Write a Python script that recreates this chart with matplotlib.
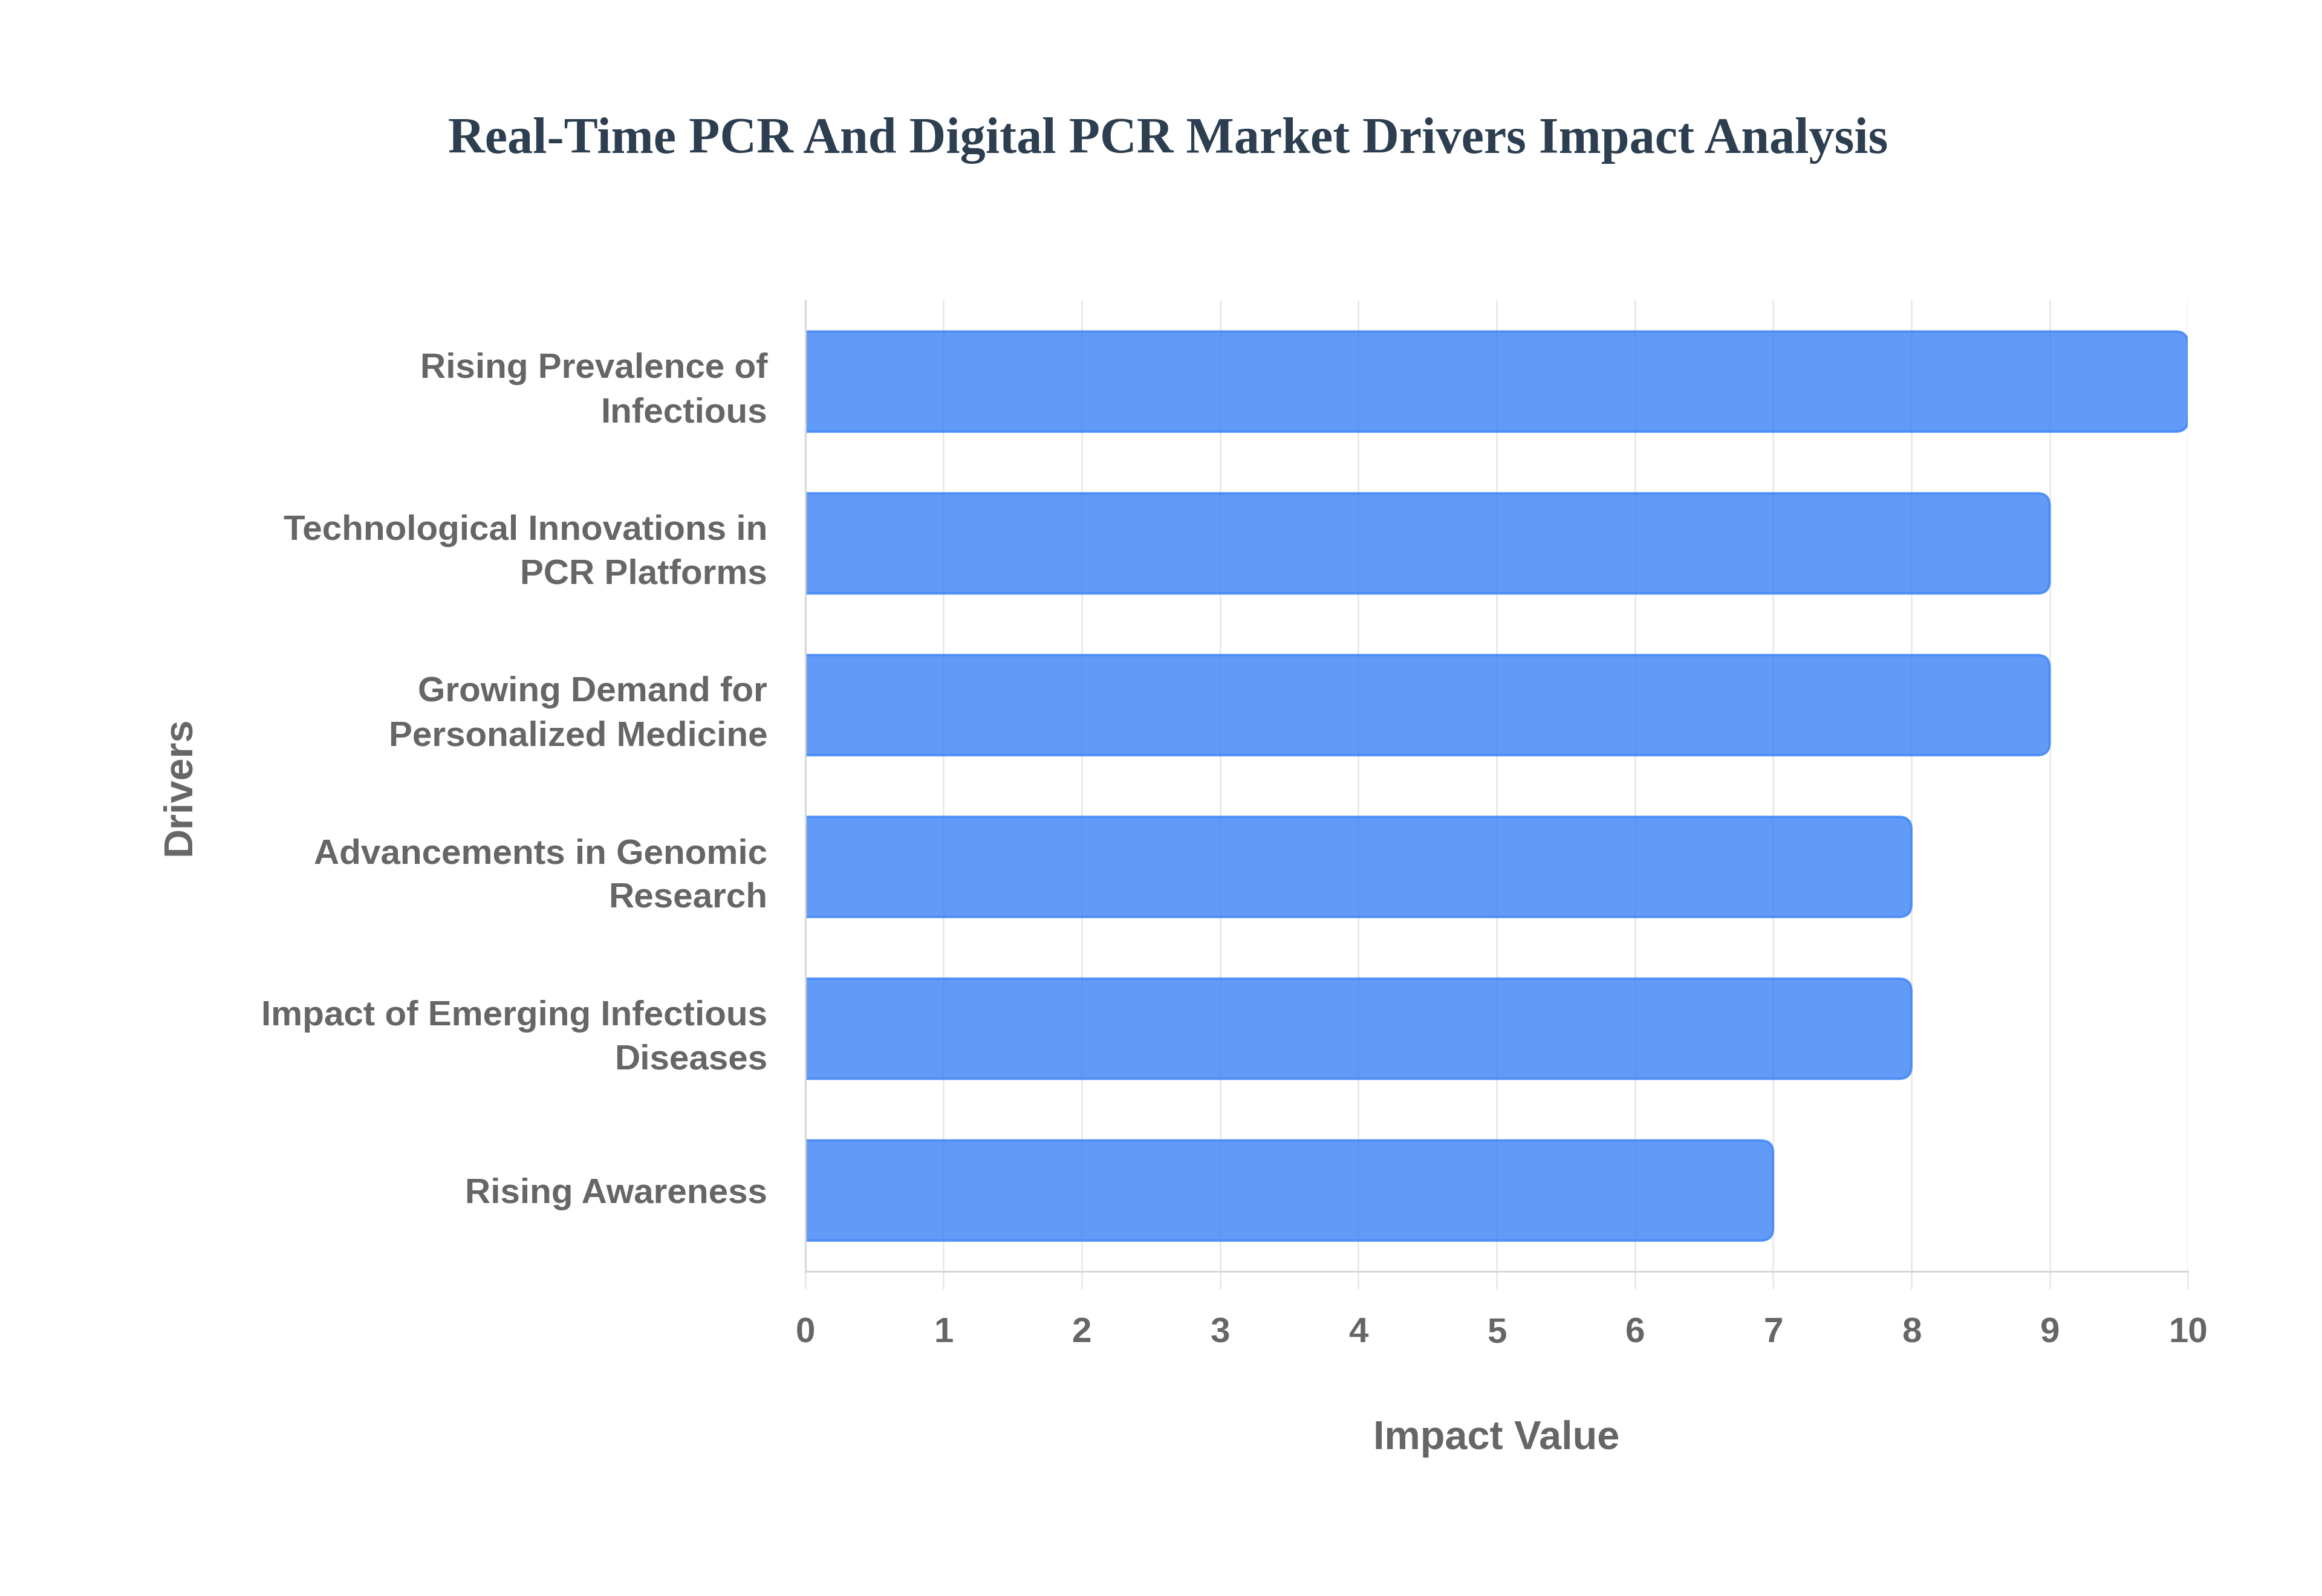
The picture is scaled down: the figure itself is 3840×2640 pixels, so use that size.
import numpy as np
import matplotlib
matplotlib.use("Agg")
import matplotlib.pyplot as plt
from matplotlib.patches import FancyBboxPatch

# data
drivers = [
    "Rising Prevalence of\nInfectious",
    "Technological Innovations in\nPCR Platforms",
    "Growing Demand for\nPersonalized Medicine",
    "Advancements in Genomic\nResearch",
    "Impact of Emerging Infectious\nDiseases",
    "Rising Awareness",
]
impact = [10, 9, 9, 8, 8, 7]
xticks = list(range(0, 11))

title = "Real-Time PCR And Digital PCR Market Drivers Impact Analysis"
xlabel = "Impact Value"
ylabel = "Drivers"

label_col = "#666666"
bar_col = "#3b82f6"
grid_col = "#e6e6e6"

plt.rcParams["font.family"] = ["Liberation Sans", "DejaVu Sans"]

fig = plt.figure(figsize=(12.8, 8.8), dpi=300)
ax = fig.add_axes([0.3468, 0.2034, 0.5955, 0.6082])

ypos = np.arange(len(drivers))
bar_h = 0.62
rx = 0.09           # corner radius in x data units
aspect = 0.87       # y/x ratio of corner radius
start = -0.3        # left corners fall outside the axes and are clipped

for y, v in zip(ypos, impact):
    p = FancyBboxPatch((start, y - bar_h / 2), v - start, bar_h,
                       boxstyle=f"round,pad=0,rounding_size={rx}",
                       mutation_aspect=aspect,
                       facecolor=bar_col, alpha=0.8,
                       edgecolor=bar_col, linewidth=0.9,
                       zorder=2, clip_on=True)
    ax.add_patch(p)

ax.set_xlim(0, 10)
ax.set_ylim(len(drivers) - 0.5, -0.5)
ax.set_xticks(xticks)
ax.set_yticks(ypos)
ax.set_yticklabels(drivers, linespacing=1.45)

ax.grid(axis="x", color=grid_col, linewidth=0.6, zorder=0)
ax.set_axisbelow(True)

for s in ["top", "right"]:
    ax.spines[s].set_visible(False)
for s in ["left", "bottom"]:
    ax.spines[s].set_color("#d6d6d6")
    ax.spines[s].set_linewidth(0.7)

ax.tick_params(axis="x", length=7, width=0.6, color=grid_col, pad=11,
               labelsize=14, labelcolor=label_col)
ax.tick_params(axis="y", length=0, pad=15, labelsize=14, labelcolor=label_col)
for t in ax.get_xticklabels() + ax.get_yticklabels():
    t.set_fontweight("bold")

ax.set_xlabel(xlabel, fontsize=16, fontweight="bold", color=label_col, labelpad=28)
ax.set_ylabel(ylabel, fontsize=16, fontweight="bold", color=label_col, labelpad=25)

fig.text(0.503, 0.912, title, ha="center", va="center",
         fontsize=20.2, fontweight="bold", color="#2c3e50",
         family=["Liberation Serif", "DejaVu Serif"])

plt.savefig("out.png", dpi=300, facecolor="white")
